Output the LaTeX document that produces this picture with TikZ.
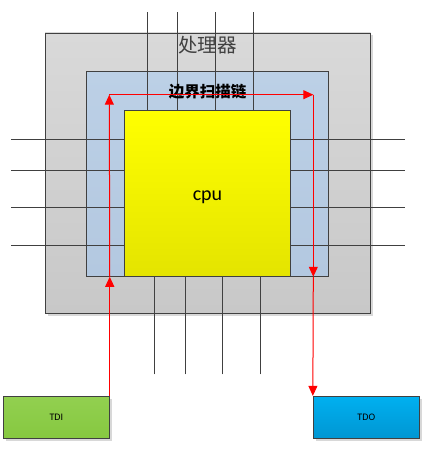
\documentclass[tikz,border=0pt]{standalone}
\usepackage{fontspec}
\setmainfont{Carlito}
\newfontfamily\cjk{Noto Sans CJK SC}
\usetikzlibrary{arrows.meta}
\definecolor{linecol}{HTML}{404040}
\definecolor{procTop}{HTML}{D9D9D9}
\definecolor{procBot}{HTML}{C8C8C8}
\definecolor{bsTop}{HTML}{BCD0E6}
\definecolor{bsBot}{HTML}{B3C8E0}
\definecolor{cpuTop}{HTML}{FFFF00}
\definecolor{cpuBot}{HTML}{E4E400}
\definecolor{tdiTop}{HTML}{92D050}
\definecolor{tdiBot}{HTML}{86C840}
\definecolor{tdoTop}{HTML}{00B0F0}
\definecolor{tdoBot}{HTML}{0096D2}
\definecolor{shadowcol}{HTML}{D8D8D8}
\definecolor{chainred}{HTML}{FF0000}
\tikzset{
  box/.style={draw=linecol, line width=0.9pt, rectangle, inner sep=0pt},
  pin/.style={draw=linecol, line width=0.9pt},
  chain/.style={draw=chainred, line width=1pt, -{Triangle[width=9pt,length=10pt]}},
  shadowbox/.style={fill=shadowcol, draw=none}
}
\begin{document}
\begin{tikzpicture}[x=1pt,y=-1pt]
\useasboundingbox (0,0) rectangle (433,457);
% shadows
\fill[shadowcol] (47.5,35.5) rectangle (373,315.5);
\fill[shadowcol] (5.8,398.8) rectangle (111.8,441.2);
\fill[shadowcol] (315.8,398.8) rectangle (421.8,441.2);
% processor
\node[box, top color=procTop, bottom color=procBot, minimum width=325.5pt, minimum height=280pt] (proc) at (207.75,173) {};
% boundary scan
\node[box, top color=bsTop, bottom color=bsBot, minimum width=242pt, minimum height=205pt] (bs) at (207.7,173.8) {};
% pin end points
\foreach \x [count=\i] in {147.3,177.3,215.3,253.3}{
  \coordinate (t\i) at (\x,12.3);
}
\foreach \x [count=\i] in {154.3,185.3,222.3,260.3}{
  \coordinate (b\i) at (\x,374.3);
}
\foreach \y [count=\i] in {139.3,170.3,207.3,245.3}{
  \coordinate (l\i) at (11.3,\y);
  \coordinate (r\i) at (404.7,\y);
}
% cpu
\node[box, top color=cpuTop, bottom color=cpuBot, minimum width=165.6pt, minimum height=166pt] (cpu) at (207.5,193.3) {};
\foreach \i in {1,...,4}{
  \draw[pin] (t\i) -- (t\i |- cpu.north);
  \draw[pin] (b\i) -- (b\i |- cpu.south);
  \draw[pin] (l\i) -- (l\i -| cpu.west);
  \draw[pin] (r\i) -- (r\i -| cpu.east);
}
\node[font=\fontsize{20}{20}\selectfont, text=black] (cputext) at (207.5,197) {cpu};
% labels
\node[font=\cjk\fontsize{19.5}{20}\selectfont, text=linecol] (proclabel) at (207.5,45.5) {处理器};
\node[font=\cjk\bfseries\fontsize{15.5}{16}\selectfont, text=black] (bslabel) at (207.5,92) {边界扫描链};
% TDI / TDO
\node[box, top color=tdiTop, bottom color=tdiBot, minimum width=106pt, minimum height=42.4pt, font=\fontsize{10}{10}\selectfont] (TDI) at (56.3,417.5) {TDI};
\node[box, top color=tdoTop, bottom color=tdoBot, minimum width=106pt, minimum height=42.4pt, font=\fontsize{10}{10}\selectfont] (TDO) at (366.3,417.5) {TDO};
% scan chain
\coordinate (c1) at (109.3,94.7);
\coordinate (c2) at (313.3,94.7);
\draw[chain] (TDI.north east) -- (TDI.north east |- bs.south);
\draw[chain] (TDI.north east |- bs.south) -- (c1);
\draw[chain] (c1) -- (c2);
\draw[chain] (c2) -- (c2 |- bs.south);
\draw[chain] (c2 |- bs.south) -- (TDO.north west);
\end{tikzpicture}
\end{document}
